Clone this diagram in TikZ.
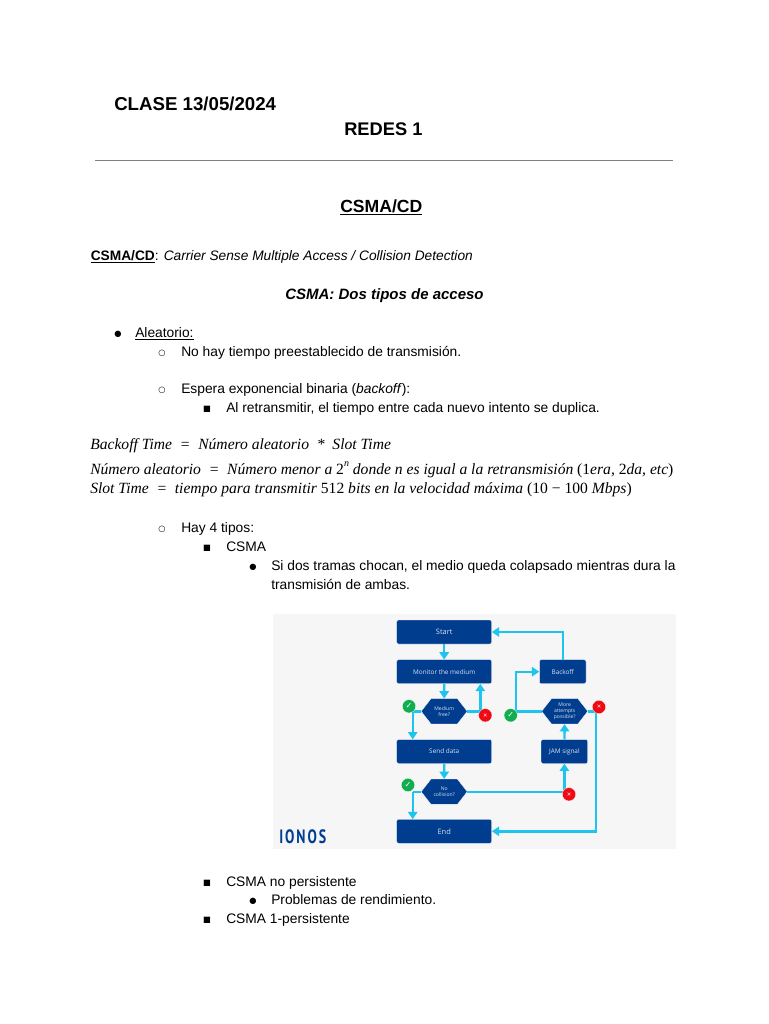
\documentclass[tikz,border=0pt]{standalone}
\usepackage{fontspec}
\setmainfont{Liberation Sans}
\newfontfamily\formulafont{Liberation Serif}
\newfontfamily\symbolfont{DejaVu Sans}
\newfontfamily\chartfont{Open Sans}
\newfontfamily\logofont[LetterSpace=14]{PT Sans}
\usetikzlibrary{arrows.meta, shapes.symbols}

\definecolor{ionosblue}{HTML}{003D8F}
\definecolor{flowcyan}{HTML}{1CC4EE}
\definecolor{okgreen}{HTML}{12AD4F}
\definecolor{nored}{HTML}{F00A14}
\definecolor{panelgray}{HTML}{F6F6F7}

\tikzset{
    body/.style={anchor=base west, inner sep=0pt, font=\fontsize{10.35}{12}\selectfont},
    title/.style={anchor=base west, inner sep=0pt, font=\fontsize{13.2}{15}\selectfont\bfseries},
    formula/.style={anchor=base west, inner sep=0pt, font=\fontsize{11.7}{13}\selectfont\formulafont\itshape},
    mark bullet/.style={anchor=base, inner sep=0pt, yshift=0.6pt, font=\fontsize{6.2}{8}\selectfont\symbolfont},
    stepbox/.style={rectangle, rounded corners=1.5pt, fill=ionosblue, draw=white, very thin, text=white!85!ionosblue, align=center, inner sep=0pt, minimum height=18pt, font=\fontsize{4.8}{6}\selectfont\chartfont},
    hexbox/.style={signal, signal to=west and east, signal pointer angle=104, fill=ionosblue, draw=white, very thin, text=white!85!ionosblue, align=center, inner sep=0pt, minimum width=34.5pt, minimum height=19pt, font=\fontsize{3.8}{4.6}\selectfont\chartfont},
    okmark/.style={circle, fill=okgreen, draw=white, very thin, text=white, inner sep=0pt, minimum size=10pt, font=\fontsize{6}{6}\selectfont\symbolfont},
    nomark/.style={circle, fill=nored, draw=white, very thin, text=white, inner sep=0pt, minimum size=10pt, font=\fontsize{4}{4}\selectfont\symbolfont},
    flow/.style={flowcyan, line width=1.8pt, -{Triangle[length=5.5pt, width=7pt]}},
    flowline/.style={flowcyan, line width=1.8pt},
}

\begin{document}
\begin{tikzpicture}[x=0.75pt, y=-0.75pt]
    \useasboundingbox[fill=white] (0, 0) rectangle (768, 1024);

    % Header
    \node[title, font=\fontsize{14}{15}\selectfont\bfseries] (clase) at (114, 110) {CLASE 13/05/2024};
    \node[title, font=\fontsize{13.7}{15}\selectfont\bfseries] (redes) at (344, 135) {REDES 1};
    \draw[gray, thin] (95, 160.5) -- (673, 160.5);
    \node[title] (csmacd) at (340, 212) {\underline{CSMA/CD}};

    % Definition
    \node[body, font=\fontsize{10.3}{12}\selectfont] (defn) at (90.5, 260) {\textbf{\underline{CSMA/CD}}: \textit{Carrier Sense Multiple Access / Collision Detection}};
    \node[body, font=\fontsize{11.25}{12}\selectfont\bfseries\itshape] (tipos) at (285, 299) {CSMA: Dos tipos de acceso};

    % List
    \node[mark bullet] (m1) at (118, 337) {●};
    \node[body] (aleatorio) at (135, 337) {\underline{Aleatorio:}};
    \node[mark bullet] (m2) at (162, 356) {○};
    \node[body] (nohay) at (181, 356) {No hay tiempo preestablecido de transmisión.};
    \node[mark bullet] (m3) at (162, 393) {○};
    \node[body] (espera) at (181, 393) {Espera exponencial binaria (\textit{backoff}):};
    \node[mark bullet] (m4) at (207, 412) {■};
    \node[body] (alretr) at (226, 412) {Al retransmitir, el tiempo entre cada nuevo intento se duplica.};

    % Formulas
    \node[formula] (f1) at (90, 449) {Backoff Time \ = \ Número aleatorio \ * \ Slot Time};
    \node[formula] (f2) at (90, 474) {Número aleatorio \ = \ Número menor a {\upshape 2}\raisebox{1ex}{\fontsize{7.5}{7.5}\selectfont n} donde n es igual a la retransmisión {\upshape (1}era, {\upshape 2}da, etc{\upshape )}};
    \node[formula] (f3) at (90, 493) {Slot Time \ = \ tiempo para transmitir {\upshape 512} bits en la velocidad máxima {\upshape (10 − 100} Mbps{\upshape )}};

    % Types
    \node[mark bullet] (m5) at (162, 532) {○};
    \node[body] (hay) at (181, 532) {Hay 4 tipos:};
    \node[mark bullet] (m6) at (207, 551) {■};
    \node[body] (csma) at (226, 551) {CSMA};
    \node[mark bullet] (m7) at (253, 570) {●};
    \node[body] (sidos) at (271, 570) {Si dos tramas chocan, el medio queda colapsado mientras dura la};
    \node[body] (sidos2) at (271, 589) {transmisión de ambas.};

    % Flowchart panel
    \fill[panelgray] (273, 614) rectangle (676, 849);
    \node[stepbox, minimum width=71.25pt] (start) at (444.2, 632) {\fontsize{5.6}{6}\selectfont Start};
    \node[stepbox, minimum width=71.25pt] (monitor) at (444.2, 671.7) {Monitor the medium};
    \node[hexbox] (medium) at (444.2, 711.3) {Medium\\free?};
    \node[stepbox, minimum width=71.25pt] (send) at (444.2, 751.5) {Send data};
    \node[hexbox] (nocoll) at (444.2, 791.7) {No\\collision?};
    \node[stepbox, minimum width=71.25pt] (end) at (444.2, 831.3) {\fontsize{5.6}{6}\selectfont End};
    \node[stepbox, minimum width=35pt] (backoff) at (562.7, 671.7) {Backoff};
    \node[hexbox] (more) at (564.7, 711.3) {More\\attempts\\possible?};
    \node[stepbox, minimum width=35pt] (jam) at (564.4, 751.5) {JAM signal};

    \coordinate (medleft) at (412.7, 711.3);
    \coordinate (medright) at (480.3, 711.3);
    \coordinate (collleft) at (412.7, 791.7);
    \coordinate (collright) at (564.4, 791.7);
    \coordinate (moreleft) at (516, 711.3);
    \coordinate (moreright) at (595.7, 711.3);

    % Connectors
    \draw[flow] (start) -- (monitor);
    \draw[flow] (monitor) -- (medium);
    \draw[flowline] (medium.east) -- (medright);
    \draw[flow] (medright) -- (medright |- monitor.south);
    \draw[flowline] (medium.west) -- (medleft);
    \draw[flow] (medleft) -- (medleft |- send.north);
    \draw[flow] (send) -- (nocoll);
    \draw[flowline] (nocoll.west) -- (collleft);
    \draw[flow] (collleft) -- (collleft |- end.north);
    \draw[flowline] (nocoll.east) -- (collright);
    \draw[flow] (collright) -- (jam.south);
    \draw[flow] (jam) -- (more);
    \draw[flowline] (more.west) -- (moreleft);
    \draw[flow] (moreleft) |- (backoff.west);
    \draw[flow] (backoff.north) |- (start.east);
    \draw[flowline] (more.east) -- (moreright);
    \draw[flow] (moreright) |- (end.east);

    % Result marks
    \node[okmark] (ok1) at (409, 706.3) {✓};
    \node[nomark] (no1) at (485.3, 715.3) {✕};
    \node[okmark] (ok2) at (408, 785) {✓};
    \node[nomark] (no2) at (569, 794.3) {✕};
    \node[okmark] (ok3) at (510.7, 715.3) {✓};
    \node[nomark] (no3) at (599, 707) {✕};

    \node[anchor=base west, inner sep=0pt, text=ionosblue, font=\fontsize{14.5}{15}\selectfont\logofont\bfseries] (logo) at (279, 843) {\scalebox{0.72}[1]{IONOS}};

    % Rest of the list
    \node[mark bullet] (m8) at (207, 886) {■};
    \node[body] (nopers) at (226, 886) {CSMA no persistente};
    \node[mark bullet] (m9) at (253, 904) {●};
    \node[body] (problemas) at (271, 904) {Problemas de rendimiento.};
    \node[mark bullet] (m10) at (207, 923) {■};
    \node[body] (unopers) at (226, 923) {CSMA 1-persistente};
\end{tikzpicture}
\end{document}
